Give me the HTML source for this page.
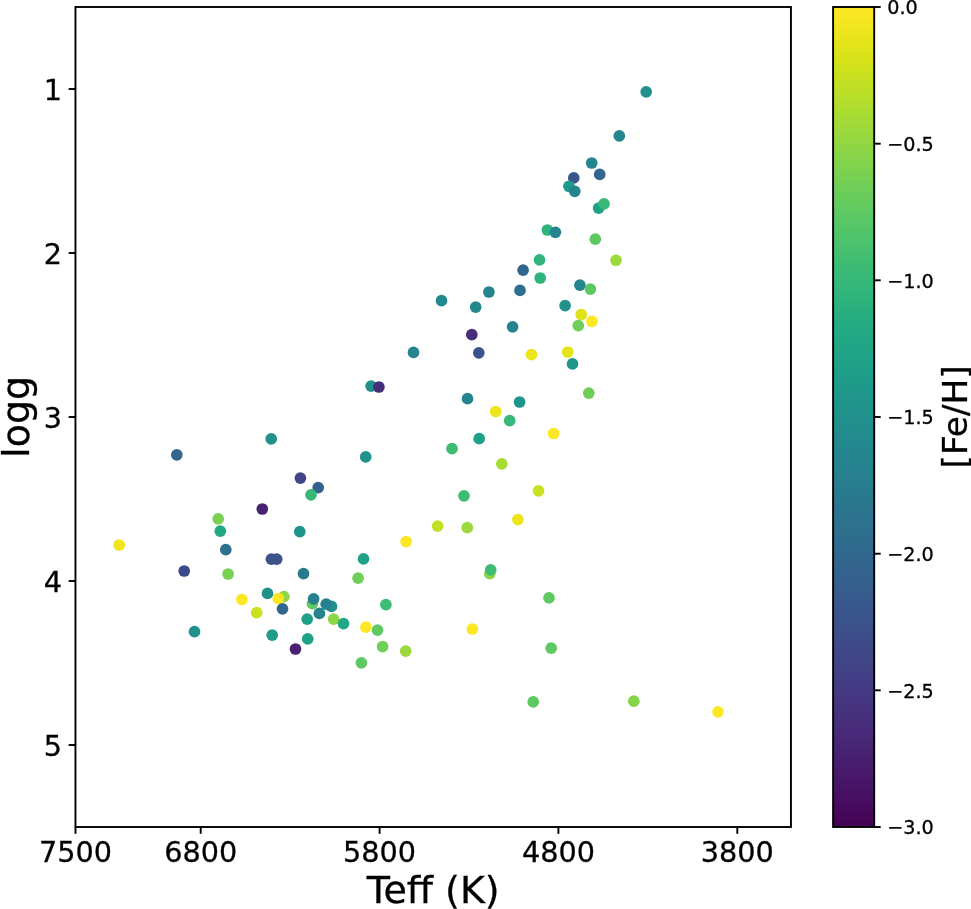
<!DOCTYPE html>
<html lang="en"><head><meta charset="utf-8"><title>logg vs Teff</title>
<style>
html,body{margin:0;padding:0;background:#fff;}
body{width:971px;height:909px;overflow:hidden;}
svg{display:block;}
text{font-family:'DejaVu Sans','Liberation Sans',sans-serif;fill:#000;stroke:#000;stroke-width:0.3px;}
</style></head><body>
<svg width="971" height="909" viewBox="0 0 971 909">
<rect width="971" height="909" fill="#fff"/>
<defs><linearGradient id="vir" x1="0" y1="1" x2="0" y2="0">
<stop offset="0.0000" stop-color="#440154"/>
<stop offset="0.0156" stop-color="#46075a"/>
<stop offset="0.0312" stop-color="#470d60"/>
<stop offset="0.0469" stop-color="#471365"/>
<stop offset="0.0625" stop-color="#48186a"/>
<stop offset="0.0781" stop-color="#481d6f"/>
<stop offset="0.0938" stop-color="#482374"/>
<stop offset="0.1094" stop-color="#482878"/>
<stop offset="0.1250" stop-color="#472d7b"/>
<stop offset="0.1406" stop-color="#46327e"/>
<stop offset="0.1562" stop-color="#453781"/>
<stop offset="0.1719" stop-color="#443b84"/>
<stop offset="0.1875" stop-color="#424086"/>
<stop offset="0.2031" stop-color="#404588"/>
<stop offset="0.2188" stop-color="#3e4989"/>
<stop offset="0.2344" stop-color="#3d4e8a"/>
<stop offset="0.2500" stop-color="#3b528b"/>
<stop offset="0.2656" stop-color="#39568c"/>
<stop offset="0.2812" stop-color="#375b8d"/>
<stop offset="0.2969" stop-color="#355f8d"/>
<stop offset="0.3125" stop-color="#33638d"/>
<stop offset="0.3281" stop-color="#31678e"/>
<stop offset="0.3438" stop-color="#2f6b8e"/>
<stop offset="0.3594" stop-color="#2e6f8e"/>
<stop offset="0.3750" stop-color="#2c728e"/>
<stop offset="0.3906" stop-color="#2a768e"/>
<stop offset="0.4062" stop-color="#297a8e"/>
<stop offset="0.4219" stop-color="#277e8e"/>
<stop offset="0.4375" stop-color="#26828e"/>
<stop offset="0.4531" stop-color="#25858e"/>
<stop offset="0.4688" stop-color="#23898e"/>
<stop offset="0.4844" stop-color="#228d8d"/>
<stop offset="0.5000" stop-color="#21918c"/>
<stop offset="0.5156" stop-color="#1f948c"/>
<stop offset="0.5312" stop-color="#1f988b"/>
<stop offset="0.5469" stop-color="#1e9c89"/>
<stop offset="0.5625" stop-color="#1fa088"/>
<stop offset="0.5781" stop-color="#20a386"/>
<stop offset="0.5938" stop-color="#22a785"/>
<stop offset="0.6094" stop-color="#25ab82"/>
<stop offset="0.6250" stop-color="#28ae80"/>
<stop offset="0.6406" stop-color="#2db27d"/>
<stop offset="0.6562" stop-color="#32b67a"/>
<stop offset="0.6719" stop-color="#38b977"/>
<stop offset="0.6875" stop-color="#3fbc73"/>
<stop offset="0.7031" stop-color="#46c06f"/>
<stop offset="0.7188" stop-color="#4ec36b"/>
<stop offset="0.7344" stop-color="#56c667"/>
<stop offset="0.7500" stop-color="#5ec962"/>
<stop offset="0.7656" stop-color="#67cc5c"/>
<stop offset="0.7812" stop-color="#70cf57"/>
<stop offset="0.7969" stop-color="#7ad151"/>
<stop offset="0.8125" stop-color="#84d44b"/>
<stop offset="0.8281" stop-color="#8ed645"/>
<stop offset="0.8438" stop-color="#98d83e"/>
<stop offset="0.8594" stop-color="#a2da37"/>
<stop offset="0.8750" stop-color="#addc30"/>
<stop offset="0.8906" stop-color="#b8de29"/>
<stop offset="0.9062" stop-color="#c2df23"/>
<stop offset="0.9219" stop-color="#cde11d"/>
<stop offset="0.9375" stop-color="#d8e219"/>
<stop offset="0.9531" stop-color="#e2e418"/>
<stop offset="0.9688" stop-color="#ece51b"/>
<stop offset="0.9844" stop-color="#f6e620"/>
<stop offset="1.0000" stop-color="#fde725"/>
</linearGradient></defs>
<g>
<circle cx="646.2" cy="91.8" r="5.85" fill="#21918c"/>
<circle cx="619.3" cy="135.9" r="5.85" fill="#24868e"/>
<circle cx="591.7" cy="163.0" r="5.85" fill="#24868e"/>
<circle cx="599.7" cy="174.4" r="5.85" fill="#31678e"/>
<circle cx="573.8" cy="177.9" r="5.85" fill="#38588c"/>
<circle cx="568.9" cy="186.3" r="5.85" fill="#1e9c89"/>
<circle cx="574.8" cy="191.3" r="5.85" fill="#25848e"/>
<circle cx="598.6" cy="208.1" r="5.85" fill="#1fa188"/>
<circle cx="604.0" cy="203.9" r="5.85" fill="#37b878"/>
<circle cx="547.4" cy="230.0" r="5.85" fill="#2fb47c"/>
<circle cx="555.4" cy="232.3" r="5.85" fill="#25848e"/>
<circle cx="595.3" cy="239.2" r="5.85" fill="#5ec962"/>
<circle cx="539.5" cy="259.9" r="5.85" fill="#2fb47c"/>
<circle cx="616.0" cy="260.3" r="5.85" fill="#9bd93c"/>
<circle cx="523.1" cy="270.2" r="5.85" fill="#31678e"/>
<circle cx="540.2" cy="278.0" r="5.85" fill="#2fb47c"/>
<circle cx="520.0" cy="290.4" r="5.85" fill="#2e6f8e"/>
<circle cx="579.9" cy="285.2" r="5.85" fill="#25848e"/>
<circle cx="590.4" cy="289.1" r="5.85" fill="#5ec962"/>
<circle cx="565.1" cy="305.6" r="5.85" fill="#21918c"/>
<circle cx="581.2" cy="314.5" r="5.85" fill="#dfe318"/>
<circle cx="591.9" cy="321.3" r="5.85" fill="#fde725"/>
<circle cx="578.3" cy="325.6" r="5.85" fill="#6ece58"/>
<circle cx="512.6" cy="326.8" r="5.85" fill="#25848e"/>
<circle cx="531.5" cy="354.6" r="5.85" fill="#ece51b"/>
<circle cx="567.8" cy="352.0" r="5.85" fill="#e5e419"/>
<circle cx="572.5" cy="363.9" r="5.85" fill="#1f958b"/>
<circle cx="588.8" cy="393.1" r="5.85" fill="#6ece58"/>
<circle cx="519.6" cy="402.0" r="5.85" fill="#1f958b"/>
<circle cx="509.7" cy="420.7" r="5.85" fill="#37b878"/>
<circle cx="553.6" cy="433.5" r="5.85" fill="#fde725"/>
<circle cx="488.9" cy="292.0" r="5.85" fill="#25848e"/>
<circle cx="441.5" cy="300.7" r="5.85" fill="#23898e"/>
<circle cx="475.7" cy="307.1" r="5.85" fill="#23898e"/>
<circle cx="471.8" cy="334.7" r="5.85" fill="#472e7c"/>
<circle cx="413.5" cy="352.4" r="5.85" fill="#25848e"/>
<circle cx="478.8" cy="352.8" r="5.85" fill="#3b528b"/>
<circle cx="371.1" cy="386.1" r="5.85" fill="#21918c"/>
<circle cx="378.9" cy="387.0" r="5.85" fill="#472e7c"/>
<circle cx="467.5" cy="398.7" r="5.85" fill="#25848e"/>
<circle cx="495.7" cy="411.5" r="5.85" fill="#ece51b"/>
<circle cx="479.2" cy="438.7" r="5.85" fill="#1fa188"/>
<circle cx="271.2" cy="438.9" r="5.85" fill="#21918c"/>
<circle cx="176.8" cy="454.8" r="5.85" fill="#31678e"/>
<circle cx="300.4" cy="478.1" r="5.85" fill="#414487"/>
<circle cx="262.3" cy="509.0" r="5.85" fill="#482173"/>
<circle cx="218.2" cy="518.8" r="5.85" fill="#7ad151"/>
<circle cx="220.3" cy="531.2" r="5.85" fill="#22a884"/>
<circle cx="299.8" cy="531.7" r="5.85" fill="#1f958b"/>
<circle cx="119.2" cy="545.0" r="5.85" fill="#f1e51d"/>
<circle cx="225.8" cy="549.7" r="5.85" fill="#2d718e"/>
<circle cx="271.4" cy="559.2" r="5.85" fill="#3b528b"/>
<circle cx="276.7" cy="559.2" r="5.85" fill="#3b528b"/>
<circle cx="184.2" cy="571.0" r="5.85" fill="#3e4989"/>
<circle cx="228.1" cy="574.0" r="5.85" fill="#7ad151"/>
<circle cx="303.5" cy="573.7" r="5.85" fill="#297a8e"/>
<circle cx="267.5" cy="593.4" r="5.85" fill="#21918c"/>
<circle cx="283.9" cy="596.7" r="5.85" fill="#8ed645"/>
<circle cx="278.2" cy="598.5" r="5.85" fill="#fde725"/>
<circle cx="241.9" cy="599.5" r="5.85" fill="#fde725"/>
<circle cx="282.5" cy="608.8" r="5.85" fill="#31678e"/>
<circle cx="256.7" cy="612.7" r="5.85" fill="#cae11f"/>
<circle cx="194.5" cy="631.7" r="5.85" fill="#21918c"/>
<circle cx="272.2" cy="635.2" r="5.85" fill="#1e9c89"/>
<circle cx="295.5" cy="649.0" r="5.85" fill="#482173"/>
<circle cx="452.0" cy="448.7" r="5.85" fill="#3fbc73"/>
<circle cx="365.7" cy="456.9" r="5.85" fill="#21918c"/>
<circle cx="318.2" cy="487.6" r="5.85" fill="#33628d"/>
<circle cx="311.0" cy="494.8" r="5.85" fill="#37b878"/>
<circle cx="464.0" cy="495.8" r="5.85" fill="#3fbc73"/>
<circle cx="437.6" cy="526.1" r="5.85" fill="#c2df23"/>
<circle cx="467.3" cy="527.7" r="5.85" fill="#9bd93c"/>
<circle cx="406.1" cy="541.7" r="5.85" fill="#fde725"/>
<circle cx="363.5" cy="558.8" r="5.85" fill="#1fa188"/>
<circle cx="358.1" cy="578.2" r="5.85" fill="#6ece58"/>
<circle cx="312.4" cy="603.7" r="5.85" fill="#5ec962"/>
<circle cx="313.6" cy="598.8" r="5.85" fill="#27808e"/>
<circle cx="331.5" cy="606.4" r="5.85" fill="#21918c"/>
<circle cx="326.2" cy="604.2" r="5.85" fill="#27808e"/>
<circle cx="319.4" cy="613.4" r="5.85" fill="#25848e"/>
<circle cx="385.9" cy="604.6" r="5.85" fill="#3fbc73"/>
<circle cx="307.2" cy="619.2" r="5.85" fill="#1fa188"/>
<circle cx="333.6" cy="619.2" r="5.85" fill="#8ed645"/>
<circle cx="343.5" cy="623.6" r="5.85" fill="#22a884"/>
<circle cx="365.9" cy="627.2" r="5.85" fill="#fde725"/>
<circle cx="377.5" cy="630.1" r="5.85" fill="#5ec962"/>
<circle cx="472.4" cy="629.0" r="5.85" fill="#fde725"/>
<circle cx="307.7" cy="638.9" r="5.85" fill="#1fa188"/>
<circle cx="382.6" cy="646.7" r="5.85" fill="#6ece58"/>
<circle cx="405.7" cy="651.1" r="5.85" fill="#9bd93c"/>
<circle cx="361.4" cy="662.8" r="5.85" fill="#5ec962"/>
<circle cx="501.8" cy="463.8" r="5.85" fill="#a8db34"/>
<circle cx="538.5" cy="490.8" r="5.85" fill="#cae11f"/>
<circle cx="517.9" cy="519.6" r="5.85" fill="#ece51b"/>
<circle cx="489.8" cy="573.6" r="5.85" fill="#8ed645"/>
<circle cx="490.7" cy="569.9" r="5.85" fill="#3fbc73"/>
<circle cx="549.0" cy="597.9" r="5.85" fill="#5ec962"/>
<circle cx="551.2" cy="648.2" r="5.85" fill="#5ec962"/>
<circle cx="533.2" cy="701.9" r="5.85" fill="#5ec962"/>
<circle cx="633.8" cy="701.2" r="5.85" fill="#86d549"/>
<circle cx="718.0" cy="711.8" r="5.85" fill="#fde725"/>
</g>
<rect x="75.45" y="7.0" width="715.5" height="820.0" fill="none" stroke="#000" stroke-width="1.9"/>
<g stroke="#000" stroke-width="1.9">
<line x1="75.5" y1="827.0" x2="75.5" y2="833.8"/>
<line x1="200.7" y1="827.0" x2="200.7" y2="833.8"/>
<line x1="379.6" y1="827.0" x2="379.6" y2="833.8"/>
<line x1="558.4" y1="827.0" x2="558.4" y2="833.8"/>
<line x1="737.3" y1="827.0" x2="737.3" y2="833.8"/>
<line x1="68.65" y1="89.0" x2="75.45" y2="89.0"/>
<line x1="68.65" y1="253.0" x2="75.45" y2="253.0"/>
<line x1="68.65" y1="417.0" x2="75.45" y2="417.0"/>
<line x1="68.65" y1="581.0" x2="75.45" y2="581.0"/>
<line x1="68.65" y1="745.0" x2="75.45" y2="745.0"/>
</g>
<g font-size="28.7" text-anchor="middle">
<text x="75.5" y="862.2">7500</text>
<text x="200.7" y="862.2">6800</text>
<text x="379.6" y="862.2">5800</text>
<text x="558.4" y="862.2">4800</text>
<text x="737.3" y="862.2">3800</text>
</g>
<g font-size="28.7" text-anchor="end">
<text x="62.1" y="100.4">1</text>
<text x="62.1" y="264.4">2</text>
<text x="62.1" y="428.4">3</text>
<text x="62.1" y="592.4">4</text>
<text x="62.1" y="756.4">5</text>
</g>
<text x="433.2" y="903.3" font-size="38" text-anchor="middle">Teff (K)</text>
<text transform="translate(28.8,416.9) rotate(-90)" font-size="38" text-anchor="middle">logg</text>
<rect x="833.1" y="7.0" width="41.1" height="820.0" fill="url(#vir)" stroke="#000" stroke-width="1.9"/>
<g stroke="#000" stroke-width="1.9">
<line x1="874.2" y1="7.0" x2="880.7" y2="7.0"/>
<line x1="874.2" y1="143.7" x2="880.7" y2="143.7"/>
<line x1="874.2" y1="280.3" x2="880.7" y2="280.3"/>
<line x1="874.2" y1="417.0" x2="880.7" y2="417.0"/>
<line x1="874.2" y1="553.7" x2="880.7" y2="553.7"/>
<line x1="874.2" y1="690.3" x2="880.7" y2="690.3"/>
<line x1="874.2" y1="827.0" x2="880.7" y2="827.0"/>
</g>
<g font-size="19.2">
<text x="887.2" y="14.4">0.0</text>
<text x="887.2" y="151.1">−0.5</text>
<text x="887.2" y="287.7">−1.0</text>
<text x="887.2" y="424.4">−1.5</text>
<text x="887.2" y="561.1">−2.0</text>
<text x="887.2" y="697.7">−2.5</text>
<text x="887.2" y="834.4">−3.0</text>
</g>
<text transform="translate(967.3,416.9) rotate(-90)" font-size="34.3" text-anchor="middle">[Fe/H]</text>
</svg></body></html>
